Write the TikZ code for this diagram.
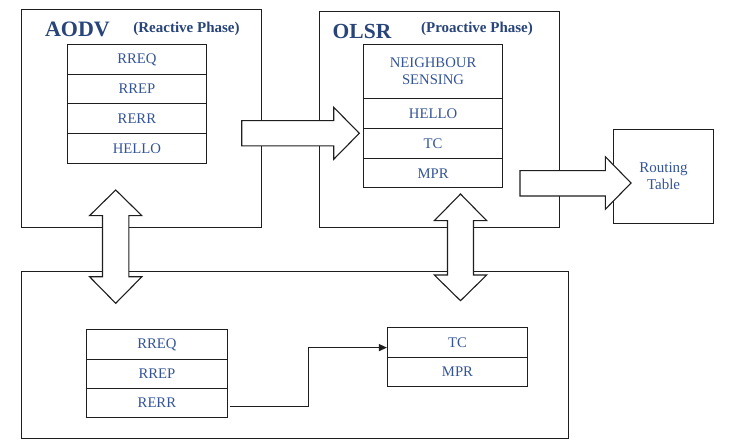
\documentclass[tikz,border=0pt]{standalone}
\usepackage{fontspec}
\setmainfont{Liberation Serif}
\usetikzlibrary{arrows.meta,calc}
\definecolor{txtblue}{RGB}{52,84,150}
\definecolor{ttlblue}{RGB}{40,68,120}
\definecolor{linec}{RGB}{30,30,30}
\begin{document}
\begin{tikzpicture}[x=1pt,y=-1pt,
  box/.style={draw=linec, line width=1.1pt, inner sep=0pt, anchor=north west},
  cell/.style={box, text=txtblue, font=\fontsize{14.7}{17}\selectfont, align=center},
  ttl/.style={text=ttlblue, inner sep=0pt},
  blockarrow/.style={draw=linec, line width=1.1pt, fill=white, line join=miter},
  conn/.style={draw=linec, line width=1.1pt, -{Triangle[length=8pt,width=7pt]}}]
\useasboundingbox (0,0) rectangle (735,443);
% big boxes
\node[box, minimum width=240pt, minimum height=218pt] (aodv) at (21,9) {};
\node[box, minimum width=239.7pt, minimum height=216pt] (olsr) at (319,11) {};
\node[box, minimum width=547pt, minimum height=167.3pt] (bottom) at (21,271) {};
\node[box, text=txtblue, align=center, font=\fontsize{15}{17}\selectfont, minimum width=100.6pt, minimum height=94pt] (rt) at (612.7,129) {Routing\\Table};
% titles
\node[ttl, font=\bfseries\fontsize{22}{22}\selectfont] (t1) at (77.5,29) {AODV};
\node[ttl, font=\bfseries\fontsize{15}{15}\selectfont] (t2) at (186.5,29.3) {(Reactive Phase)};
\node[ttl, font=\bfseries\fontsize{21.5}{22}\selectfont] (t3) at (362,31.5) {OLSR};
\node[ttl, font=\bfseries\fontsize{15}{15}\selectfont] (t4) at (477,29) {(Proactive Phase)};
% AODV table
\node[cell, minimum width=139.3pt, minimum height=29.7pt] (a1) at (66.7,44) {RREQ};
\node[cell, minimum width=139.3pt, minimum height=29.7pt] (a2) at (66.7,73.7) {RREP};
\node[cell, minimum width=139.3pt, minimum height=29.7pt] (a3) at (66.7,103.4) {RERR};
\node[cell, minimum width=139.3pt, minimum height=29.7pt] (a4) at (66.7,133.1) {HELLO};
% OLSR table
\node[cell, minimum width=139.6pt, minimum height=53.7pt] (o1) at (362.7,44.3) {NEIGHBOUR\\SENSING};
\node[cell, minimum width=139.6pt, minimum height=30pt] (o2) at (362.7,98) {HELLO};
\node[cell, minimum width=139.6pt, minimum height=30pt] (o3) at (362.7,128) {TC};
\node[cell, minimum width=139.6pt, minimum height=29.3pt] (o4) at (362.7,158) {MPR};
% bottom tables
\node[cell, minimum width=140.3pt, minimum height=29.4pt] (b1) at (86.2,329.3) {RREQ};
\node[cell, minimum width=140.3pt, minimum height=29.4pt] (b2) at (86.2,358.6) {RREP};
\node[cell, minimum width=140.3pt, minimum height=29.4pt] (b3) at (86.2,387.9) {RERR};
\node[cell, minimum width=140pt, minimum height=29.5pt] (c1) at (386.9,327.3) {TC};
\node[cell, minimum width=140pt, minimum height=29.5pt] (c2) at (386.9,356.8) {MPR};
% block arrows
\draw[blockarrow] (241.7,120.7) -- (333.7,120.7) -- (333.7,107.3) -- (359.3,133.3) -- (333.7,159.3) -- (333.7,145.9) -- (241.7,145.9) -- cycle;
\draw[blockarrow] (520,170.7) -- (605.3,170.7) -- (605.3,156.7) -- (631,183) -- (605.3,209.3) -- (605.3,196) -- (520,196) -- cycle;
\draw[blockarrow] (115.7,190) -- (141.9,215.7) -- (128.9,215.7) -- (128.9,276.7) -- (141.9,276.7) -- (115.7,303.3) -- (89.5,276.7) -- (102.5,276.7) -- (102.5,215.7) -- (89.5,215.7) -- cycle;
\draw[blockarrow] (460.5,194) -- (486.7,220.7) -- (473.5,220.7) -- (473.5,275) -- (486.7,275) -- (460.5,300.7) -- (434.3,275) -- (447.5,275) -- (447.5,220.7) -- (434.3,220.7) -- cycle;
% connector
\draw[conn] ([xshift=2pt,yshift=-3.5pt]b3.east) -- ++(78.8,0) |- ([yshift=-5pt]c1.west);
\end{tikzpicture}
\end{document}
